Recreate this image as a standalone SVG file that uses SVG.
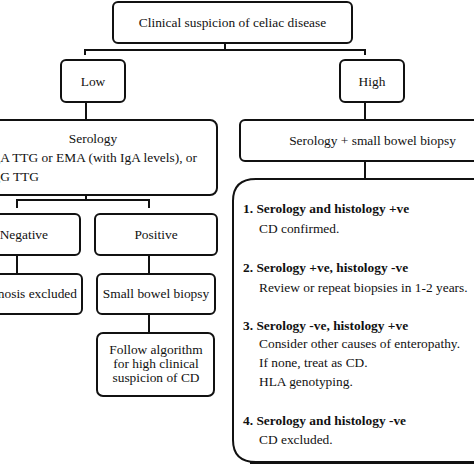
<svg xmlns="http://www.w3.org/2000/svg" width="474" height="474" viewBox="0 0 474 474">
<style>
.b{fill:#fff;stroke:#111;stroke-width:2}
.c{fill:none;stroke:#111;stroke-width:2}
text{font-family:"Liberation Serif","Times New Roman",serif;font-size:13.4px;fill:#111}
.m{text-anchor:middle}
.e{text-anchor:end}
.h{font-weight:bold}
</style>
<rect width="474" height="474" fill="#fff"/>
<g id="connectors">
<path class="c" d="M225 43V50M85 55V50H365V55"/>
<path class="c" d="M86 102V120"/>
<path class="c" d="M365 102V120"/>
<path class="c" d="M86 195V200M17 208V200H149V208"/>
<path class="c" d="M17 255V274"/>
<path class="c" d="M149 255V274"/>
<path class="c" d="M149 314V333"/>
<path class="c" d="M365 161V179"/>
</g>
<g id="n-top"><rect class="b" x="113" y="2" width="239" height="41" rx="5"/><text class="m" x="232.5" y="27">Clinical suspicion of celiac disease</text></g>
<g id="n-low"><rect class="b" x="61" y="60" width="64" height="42" rx="5"/><text class="m" x="93" y="86">Low</text></g>
<g id="n-high"><rect class="b" x="340" y="60" width="64" height="42" rx="5"/><text class="m" x="372" y="86">High</text></g>
<g id="n-serology"><rect class="b" x="-40" y="120" width="257" height="75" rx="7"/>
<text class="m" x="93" y="143">Serology</text>
<text x="-11" y="162">IgA TTG or EMA (with IgA levels), or</text>
<text x="-11" y="181">IgG TTG</text></g>
<g id="n-sb"><rect class="b" x="240" y="120" width="264" height="41" rx="5"/><text class="m" x="372.5" y="145">Serology + small bowel biopsy</text></g>
<g id="n-neg"><rect class="b" x="-40" y="214" width="120" height="41" rx="5"/><text class="e" x="48" y="239">Negative</text></g>
<g id="n-pos"><rect class="b" x="95" y="214" width="122" height="41" rx="5"/><text class="m" x="156" y="239">Positive</text></g>
<g id="n-dx"><rect class="b" x="-40" y="274" width="122" height="40" rx="5"/><text class="e" x="77" y="298">Diagnosis excluded</text></g>
<g id="n-biopsy"><rect class="b" x="97" y="274" width="118" height="40" rx="5"/><text class="m" x="156" y="298">Small bowel biopsy</text></g>
<g id="n-follow"><rect class="b" x="97" y="333" width="117" height="63" rx="6"/>
<text class="m" x="156" y="354">Follow algorithm</text>
<text class="m" x="156" y="368">for high clinical</text>
<text class="m" x="156" y="382">suspicion of CD</text></g>
<g id="n-results"><path class="b" d="M256 179H490V462H256Q233 462 233 440V201Q233 179 256 179Z"/>
<path class="c" d="M250 463H490" stroke-width="2.5"/>
<text class="h" x="243" y="213">1. Serology and histology +ve</text>
<text x="259" y="233">CD confirmed.</text>
<text class="h" x="243" y="272">2. Serology +ve, histology -ve</text>
<text x="259" y="292">Review or repeat biopsies in 1-2 years.</text>
<text class="h" x="243" y="330">3. Serology -ve, histology +ve</text>
<text x="259" y="348">Consider other causes of enteropathy.</text>
<text x="259" y="367">If none, treat as CD.</text>
<text x="259" y="386">HLA genotyping.</text>
<text class="h" x="243" y="425">4. Serology and histology -ve</text>
<text x="259" y="444">CD excluded.</text></g>
</svg>
